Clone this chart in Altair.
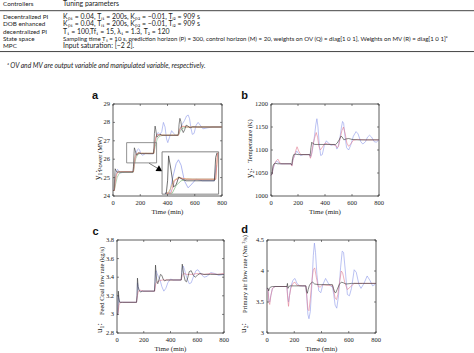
import altair as alt
import pandas as pd

W, H = 474, 353
SERIF = "Liberation Serif"
SANS = "Lato"

# ---------------- table text ----------------
table_left = ["Controllers", "Decentralized PI", "DOB enhanced", "decentralized PI", "State space", "MPC"]
table_right = [
    "Tuning parameters",
    "Kₚ₁ = 0.04, Tᵢ₁ = 200s, Kₚ₂ = −0.01, Tᵢ₂ = 909 s",
    "Kₚ₁ = 0.04, Tᵢ₁ = 200s, Kₚ₂ = −0.01, Tᵢ₂ = 909 s",
    "T₁ = 100,Tf₁ = 15, λ₁ = 1.3, T₂ = 120",
    "Input saturation: [−2 2].",
]
table_rows = [0.25, 2, 3, 4, 5, 6]
right_rows = [0.25, 2, 3, 4, 6]
long_row_text = ("Sampling time Tₛ = 10 s, prediction horizon (P) = 300, control horizon (M) = 20, "
                 "weights on OV (Q) = diag[1 0 1], Weights on MV (R) = diag[1 0 1]ᵃ")
long_row = 5
rule_rows = [1.15, 6.75]
footnote = "ᵃ OV and MV are output variable and manipulated variable, respectively."
footnote_row = 8.73

T_TICKS = [0, 200, 400, 600, 800]

# ---------------- panel a : Power (MW) ----------------
a_black_t = [0, 8, 12, 16, 22, 30, 40, 146, 150, 154, 157, 164, 172, 180, 188, 198, 210,
             296, 300, 304, 309, 314, 322, 332, 345, 360,
             476, 480, 485, 491, 498, 507, 516, 526, 537, 550, 565, 585, 620, 800]
a_black_v = [24.3, 24.3, 25.0, 25.48, 25.38, 25.3, 25.3, 25.3, 25.6, 26.3, 26.62, 26.45, 26.22, 26.25, 26.35, 26.32, 26.3,
             26.3, 26.6, 27.4, 27.8, 27.6, 27.2, 27.25, 27.35, 27.3,
             27.3, 27.4, 27.9, 28.22, 28.05, 27.6, 27.45, 27.6, 27.85, 27.8, 27.7, 27.76, 27.75, 27.75]
a_blue_t = [0, 8, 14, 22, 32, 42, 55, 70, 90,
            146, 152, 160, 170, 180, 187, 195, 205, 216, 228, 240, 260,
            296, 302, 310, 320, 332, 345, 358, 370, 382, 393, 402, 415, 430, 445, 460,
            476, 482, 490, 500, 512, 525, 540, 552, 562, 572, 582, 595, 610, 625, 640, 660, 690, 730, 800]
a_blue_v = [24.3, 24.3, 24.7, 25.2, 25.45, 25.38, 25.25, 25.28, 25.3,
            25.3, 25.55, 26.0, 26.35, 26.52, 26.57, 26.5, 26.3, 26.21, 26.26, 26.32, 26.3,
            26.3, 26.5, 26.9, 27.3, 27.45, 27.35, 27.5, 28.0, 27.75, 27.1, 26.9, 27.2, 27.55, 27.4, 27.3,
            27.3, 27.35, 27.55, 27.8, 27.95, 28.1, 28.35, 28.4, 28.2, 27.7, 27.35, 27.4, 27.85, 28.0, 27.85, 27.65, 27.7, 27.75, 27.75]
a_red_t = [0, 10, 16, 24, 35, 50, 150, 156, 164, 175, 190, 210, 300, 306, 315, 328, 345, 370,
           480, 486, 496, 510, 528, 550, 580, 800]
a_red_v = [24.3, 24.3, 24.7, 25.1, 25.3, 25.32, 25.32, 25.7, 26.1, 26.3, 26.34, 26.32, 26.32, 26.8, 27.2, 27.35, 27.32, 27.3,
           27.3, 27.5, 27.72, 27.8, 27.77, 27.75, 27.75, 27.75]
a_green_t = [0, 10, 18, 30, 45, 65, 150, 158, 168, 180, 195, 215, 300, 310, 325, 345, 370,
             480, 492, 510, 535, 565, 800]
a_green_v = [24.3, 24.3, 24.6, 25.0, 25.22, 25.3, 25.3, 25.7, 26.05, 26.24, 26.3, 26.32, 26.32, 26.7, 27.1, 27.26, 27.3,
             27.3, 27.5, 27.68, 27.74, 27.75, 27.75]
a_orange_t = [0, 10, 15, 25, 38, 55, 150, 155, 163, 172, 185, 200, 230, 300, 306, 316, 330, 350,
              480, 488, 500, 520, 545, 800]
a_orange_v = [24.3, 24.3, 24.8, 25.2, 25.34, 25.32, 25.32, 25.8, 26.2, 26.3, 26.34, 26.33, 26.32, 26.32, 26.9, 27.25, 27.34, 27.31,
              27.31, 27.6, 27.76, 27.78, 27.75, 27.75]

# ---------------- panel b : Temperature (K) ----------------
b_black_t = [0, 8, 14, 22, 35, 50, 70, 148, 154, 160, 168, 180, 200,
             285, 290, 296, 302, 310, 325, 350, 400,
             478, 490, 505, 518, 528, 540, 555, 575, 600, 650, 800]
b_black_v = [1045, 1048, 1065, 1070, 1071, 1070, 1070, 1070, 1068, 1082, 1090, 1091, 1090,
             1090, 1088, 1105, 1117, 1114, 1112, 1112, 1112,
             1112, 1115, 1122, 1130, 1128, 1122, 1124, 1125, 1123, 1122, 1122]
b_blue_t = [0, 8, 15, 25, 40, 55, 70, 100,
            148, 155, 162, 175, 190, 205, 220, 240,
            285, 292, 300, 310, 322, 332, 340, 348, 358, 368, 380, 395, 410, 425, 445, 465,
            480, 488, 498, 510, 522, 530, 538, 548, 560, 575, 590, 610, 630, 645, 665, 680, 700, 715, 730, 745, 765, 780, 800]
b_blue_v = [1045, 1048, 1058, 1068, 1076, 1073, 1070, 1070,
            1070, 1066, 1078, 1088, 1098, 1092, 1088, 1090,
            1090, 1084, 1090, 1105, 1130, 1155, 1168, 1150, 1110, 1088, 1090, 1110, 1120, 1115, 1110, 1112,
            1110, 1102, 1108, 1125, 1150, 1162, 1158, 1130, 1105, 1100, 1110, 1130, 1140, 1135, 1118, 1113, 1118, 1128, 1132, 1128, 1118, 1117, 1122]
b_red_t = [0, 8, 15, 25, 40, 52, 65, 80,
           148, 155, 162, 175, 185, 193, 205, 220,
           285, 292, 300, 310, 322, 335, 345, 355, 365, 380, 400, 420, 450,
           480, 490, 500, 512, 525, 537, 550, 562, 575, 590, 610, 640, 700, 800]
b_red_v = [1045, 1047, 1060, 1070, 1077, 1080, 1072, 1070,
           1070, 1065, 1078, 1090, 1100, 1107, 1098, 1090,
           1090, 1082, 1090, 1110, 1125, 1138, 1128, 1108, 1100, 1106, 1115, 1113, 1112,
           1110, 1105, 1108, 1125, 1142, 1150, 1135, 1115, 1108, 1113, 1121, 1123, 1122, 1122]

# ---------------- panel c : Feed coal flow rate (kg/s) ----------------
c_black_t = [0, 6, 10, 14, 20, 28, 40, 146, 150, 153, 158, 165, 175, 190,
             280, 284, 288, 292, 298, 305, 315, 325, 335, 345, 355, 370, 380,
             480, 484, 488, 492, 500, 510, 520, 530, 540, 555, 570, 585, 600, 620, 650, 700, 800]
c_black_v = [3.0, 3.0, 3.25, 3.18, 3.13, 3.13, 3.13, 3.13, 3.2, 3.39, 3.3, 3.26, 3.24, 3.25,
             3.25, 3.35, 3.53, 3.45, 3.35, 3.33, 3.38, 3.43, 3.42, 3.38, 3.36, 3.37, 3.37,
             3.37, 3.45, 3.54, 3.5, 3.42, 3.36, 3.35, 3.4, 3.46, 3.47, 3.42, 3.4, 3.42, 3.44, 3.43, 3.43, 3.43]
c_blue_t = [0, 6, 10, 14, 20, 30, 40, 146, 150, 153, 158, 165, 180,
            280, 284, 288, 292, 300, 310, 320, 335, 350, 365, 380, 400, 420,
            480, 484, 488, 495, 505, 520, 540, 555, 570, 590, 605, 625, 650, 675, 700, 730, 760, 800]
c_blue_v = [3.0, 3.0, 3.2, 3.16, 3.13, 3.13, 3.13, 3.13, 3.2, 3.34, 3.3, 3.26, 3.25,
            3.25, 3.33, 3.45, 3.47, 3.44, 3.4, 3.38, 3.3, 3.25, 3.28, 3.34, 3.38, 3.37,
            3.37, 3.43, 3.5, 3.52, 3.48, 3.4, 3.33, 3.34, 3.4, 3.47, 3.48, 3.44, 3.4, 3.41, 3.45, 3.44, 3.42, 3.43]
c_red_t = [0, 8, 15, 25, 40, 146, 152, 160, 175, 200, 282, 290, 300, 315, 340, 380,
           480, 488, 500, 520, 560, 600, 650, 700, 750, 800]
c_red_v = [3.0, 3.02, 3.1, 3.13, 3.13, 3.13, 3.2, 3.25, 3.26, 3.25, 3.25, 3.33, 3.35, 3.36, 3.37, 3.37,
           3.37, 3.42, 3.44, 3.43, 3.43, 3.44, 3.43, 3.44, 3.43, 3.44]

# ---------------- panel d : Primary air flow rate ----------------
d_black_t = [0, 8, 12, 18, 25, 40, 146, 150, 154, 160, 170, 200,
             285, 290, 296, 302, 310, 320, 335, 350, 380,
             480, 488, 496, 505, 515, 530, 545, 560, 580, 620, 700, 800]
d_black_v = [3.72, 3.72, 3.68, 3.72, 3.74, 3.75, 3.75, 3.8, 3.72, 3.75, 3.76, 3.76,
             3.76, 3.68, 3.64, 3.7, 3.76, 3.8, 3.82, 3.79, 3.78,
             3.78, 3.72, 3.66, 3.65, 3.7, 3.78, 3.82, 3.81, 3.79, 3.8, 3.8, 3.8]
d_red_t = [0, 8, 14, 20, 28, 40, 60,
           146, 152, 158, 165, 175, 190, 205, 220, 260,
           285, 292, 300, 308, 318, 330, 340, 350, 362, 375, 390, 410, 440,
           480, 490, 500, 510, 520, 535, 545, 555, 570, 590, 610, 640, 700, 800]
d_red_v = [3.72, 3.7, 3.5, 3.46, 3.6, 3.72, 3.75,
           3.75, 3.55, 3.43, 3.6, 3.72, 3.8, 3.82, 3.77, 3.76,
           3.76, 3.6, 3.38, 3.36, 3.55, 3.85, 4.02, 4.05, 3.9, 3.75, 3.74, 3.78, 3.77,
           3.77, 3.68, 3.56, 3.54, 3.62, 3.85, 4.0, 3.97, 3.82, 3.7, 3.74, 3.8, 3.8, 3.8]
d_blue_t = [0, 8, 14, 20, 28, 40, 60,
            146, 152, 158, 165, 175, 190, 205, 220, 240, 260,
            285, 292, 300, 308, 318, 330, 340, 348, 356, 366, 380, 395, 410, 430, 450, 470,
            480, 490, 500, 512, 525, 540, 552, 562, 575, 590, 605, 620, 640, 655, 675, 690, 712, 735, 755, 775, 790, 800]
d_blue_v = [3.72, 3.7, 3.52, 3.5, 3.6, 3.72, 3.75,
            3.75, 3.6, 3.5, 3.6, 3.75, 3.85, 3.88, 3.8, 3.76, 3.76,
            3.76, 3.58, 3.3, 3.23, 3.35, 3.8, 4.25, 4.45, 4.3, 3.95, 3.68, 3.65, 3.78, 3.88, 3.8, 3.75,
            3.75, 3.62, 3.45, 3.4, 3.6, 4.05, 4.32, 4.3, 4.0, 3.62, 3.6, 3.72, 4.02, 3.98, 3.78, 3.72, 3.8, 3.92, 3.85, 3.76, 3.78, 3.8]

BLACK, BLUE, RED, GREEN, ORANGE = "#333333", "#8d98ea", "#e07a90", "#7cb87c", "#e0b45c"
LINE_W = 0.6


def series_frame(items):
    rows = []
    for rank, (name, color, ts, vs) in enumerate(items):
        for t, v in zip(ts, vs):
            rows.append({"s": f"{rank}_{name}", "c": color, "t": t, "v": v})
    return pd.DataFrame(rows)


def panel(df, xr, yr, ydom, yticks, extras=()):
    x0, x1 = xr
    ytop, ybot = yr
    xs = alt.Scale(domain=[0, 800], range=[x0, x1], nice=False, zero=False)
    ys = alt.Scale(domain=ydom, range=[ybot, ytop], nice=False, zero=False)
    frame_df = pd.DataFrame({"t0": [0], "t1": [800], "v0": [ydom[0]], "v1": [ydom[1]]})
    frame = alt.Chart(frame_df).mark_rect(fill="white", stroke="#333", strokeWidth=0.8).encode(
        x=alt.X("t0:Q", scale=xs, axis=None), x2="t1:Q",
        y=alt.Y("v0:Q", scale=ys, axis=None), y2="v1:Q")
    lines = alt.Chart(df).mark_line(strokeWidth=LINE_W).encode(
        x=alt.X("t:Q", scale=xs, axis=None), y=alt.Y("v:Q", scale=ys, axis=None),
        color=alt.Color("c:N", scale=None), detail="s:N")
    xt_df = pd.DataFrame({"tick": T_TICKS})
    yt_df = pd.DataFrame({"tick": yticks})
    xlab = alt.Chart(xt_df).mark_text(font=SERIF, fontSize=6.5, baseline="middle", align="center",
                                      color="#222").encode(
        x=alt.X("tick:Q", scale=xs, axis=None), y=alt.value(ybot + 7), text=alt.Text("tick:Q", format="~g"))
    ylab = alt.Chart(yt_df).mark_text(font=SERIF, fontSize=6.5, baseline="middle", align="right",
                                      color="#222").encode(
        y=alt.Y("tick:Q", scale=ys, axis=None), x=alt.value(x0 - 3), text=alt.Text("tick:Q", format="~g"))
    tick_style = dict(color="#333", strokeWidth=0.6)
    xtick_b = alt.Chart(xt_df).mark_rule(**tick_style).encode(
        x=alt.X("tick:Q", scale=xs, axis=None), y=alt.value(ybot), y2=alt.value(ybot - 2))
    xtick_t = alt.Chart(xt_df).mark_rule(**tick_style).encode(
        x=alt.X("tick:Q", scale=xs, axis=None), y=alt.value(ytop), y2=alt.value(ytop + 2))
    ytick_l = alt.Chart(yt_df).mark_rule(**tick_style).encode(
        y=alt.Y("tick:Q", scale=ys, axis=None), x=alt.value(x0), x2=alt.value(x0 + 2))
    ytick_r = alt.Chart(yt_df).mark_rule(**tick_style).encode(
        y=alt.Y("tick:Q", scale=ys, axis=None), x=alt.value(x1), x2=alt.value(x1 - 2))
    xtitle = alt.Chart(pd.DataFrame({"txt": ["Time (min)"]})).mark_text(
        font=SERIF, fontSize=7, baseline="middle", align="center", color="#222").encode(
        text="txt:N", x=alt.value((x0 + x1) / 2), y=alt.value(ybot + 16))
    layers = [frame, lines] + [e(xs, ys) for e in extras] + [xtick_b, xtick_t, ytick_l, ytick_r,
                                                              xlab, ylab, xtitle]
    return alt.layer(*layers)


df_a = series_frame([("blue", BLUE, a_blue_t, a_blue_v), ("green", GREEN, a_green_t, a_green_v),
                     ("orange", ORANGE, a_orange_t, a_orange_v), ("red", RED, a_red_t, a_red_v),
                     ("black", BLACK, a_black_t, a_black_v)])
df_b = series_frame([("blue", BLUE, b_blue_t, b_blue_v), ("red", RED, b_red_t, b_red_v),
                     ("black", BLACK, b_black_t, b_black_v)])
df_c = series_frame([("blue", BLUE, c_blue_t, c_blue_v), ("red", RED, c_red_t, c_red_v),
                     ("black", BLACK, c_black_t, c_black_v)])
df_d = series_frame([("blue", BLUE, d_blue_t, d_blue_v), ("red", RED, d_red_t, d_red_v),
                     ("black", BLACK, d_black_t, d_black_v)])

# zoom window of panel a, and where it is redrawn
ZOOM_T, ZOOM_V = (138, 308), (26.14, 26.66)
INSET_T, INSET_V = (360, 775), (24.1, 26.4)


def zoom_rect(xs, ys):
    d = pd.DataFrame({"t0": [100], "t1": [320], "v0": [25.8], "v1": [26.9]})
    return alt.Chart(d).mark_rect(fill="transparent", stroke="#777", strokeWidth=0.8).encode(
        x=alt.X("t0:Q", scale=xs, axis=None), x2="t1:Q", y=alt.Y("v0:Q", scale=ys, axis=None), y2="v1:Q")


def inset_box(xs, ys):
    d = pd.DataFrame({"t0": [INSET_T[0]], "t1": [INSET_T[1]], "v0": [INSET_V[0]], "v1": [INSET_V[1]]})
    return alt.Chart(d).mark_rect(fill="white", stroke="#777", strokeWidth=0.9).encode(
        x=alt.X("t0:Q", scale=xs, axis=None), x2="t1:Q", y=alt.Y("v0:Q", scale=ys, axis=None), y2="v1:Q")


def inset_lines(xs, ys):
    t0, t1 = ZOOM_T
    v0, v1 = ZOOM_V
    it0, it1 = INSET_T[0] + 2, INSET_T[1] - 2
    iv0, iv1 = INSET_V[0] + 0.05, INSET_V[1] - 0.05
    return alt.Chart(df_a).transform_filter(
        f"datum.t >= {t0} && datum.t <= {t1}"
    ).transform_calculate(
        tx=f"{it0} + (datum.t - {t0}) * {(it1 - it0) / (t1 - t0)}",
        vy=f"{iv0} + (clamp(datum.v, {v0}, {v1}) - {v0}) * {(iv1 - iv0) / (v1 - v0)}",
    ).mark_line(strokeWidth=0.7).encode(
        x=alt.X("tx:Q", scale=xs, axis=None), y=alt.Y("vy:Q", scale=ys, axis=None),
        color=alt.Color("c:N", scale=None), detail="s:N")


def arrow_line(xs, ys):
    d = pd.DataFrame({"t": [265, 340], "v": [25.78, 25.45]})
    return alt.Chart(d).mark_line(color="#444", strokeWidth=0.7).encode(
        x=alt.X("t:Q", scale=xs, axis=None), y=alt.Y("v:Q", scale=ys, axis=None))


def arrow_head(xs, ys):
    d = pd.DataFrame({"t": [343], "v": [25.43]})
    return alt.Chart(d).mark_point(shape="triangle-right", filled=True, color="black", size=45,
                                   angle=31, opacity=1).encode(
        x=alt.X("t:Q", scale=xs, axis=None), y=alt.Y("v:Q", scale=ys, axis=None))


pa = panel(df_a, (113, 222), (104, 196), [24, 29], [24, 25, 26, 27, 28, 29],
           extras=(zoom_rect, arrow_line, arrow_head, inset_box, inset_lines))
pb = panel(df_b, (271, 379), (104, 196), [1000, 1200], [1000, 1050, 1100, 1150, 1200])
pc = panel(df_c, (117, 224), (240, 333), [2.8, 3.8], [2.8, 3, 3.2, 3.4, 3.6, 3.8])
pd_ = panel(df_d, (267, 376), (240, 333), [3, 4.5], [3, 3.5, 4, 4.5])

# ---------------- table layer ----------------
tx_scale = alt.Scale(domain=[0, 1], range=[3, 63])
ty_scale = alt.Scale(domain=[0, 10], range=[2.3, 75.3])
df_left = pd.DataFrame({"col": [0] * len(table_left), "row": table_rows, "text": table_left})
df_right = pd.DataFrame({"col": [1] * len(table_right), "row": right_rows, "text": table_right})
df_long = pd.DataFrame({"col": [1], "row": [long_row], "text": [long_row_text]})
left_text = alt.Chart(df_left).mark_text(align="left", baseline="middle", font=SANS, fontSize=6.3,
                                         color="#222").encode(
    x=alt.X("col:Q", scale=tx_scale, axis=None), y=alt.Y("row:Q", scale=ty_scale, axis=None), text="text:N")
right_text = alt.Chart(df_right).mark_text(align="left", baseline="middle", font=SANS, fontSize=6.9,
                                           color="#222").encode(
    x=alt.X("col:Q", scale=tx_scale, axis=None), y=alt.Y("row:Q", scale=ty_scale, axis=None), text="text:N")
long_text = alt.Chart(df_long).mark_text(align="left", baseline="middle", font=SANS, fontSize=6.1,
                                         color="#222").encode(
    x=alt.X("col:Q", scale=tx_scale, axis=None), y=alt.Y("row:Q", scale=ty_scale, axis=None), text="text:N")
tbl_rules = alt.Chart(pd.DataFrame({"row": rule_rows})).mark_rule(color="#444", strokeWidth=1).encode(
    y=alt.Y("row:Q", scale=ty_scale, axis=None), x=alt.value(0), x2=alt.value(W))
tbl_foot = alt.Chart(pd.DataFrame({"col": [0.067], "row": [footnote_row], "text": [footnote]})).mark_text(
    align="left", baseline="middle", font=SANS, fontSize=6.7, fontStyle="italic", color="#222").encode(
    x=alt.X("col:Q", scale=tx_scale, axis=None), y=alt.Y("row:Q", scale=ty_scale, axis=None), text="text:N")
table = alt.layer(left_text, right_text, long_text, tbl_rules, tbl_foot)


def label(text, x, y, size, angle=0, font=SERIF, weight="normal"):
    return alt.Chart(pd.DataFrame({"txt": [text]})).mark_text(
        font=font, fontSize=size, fontWeight=weight, angle=angle, align="center", baseline="middle",
        color="#111").encode(text="txt:N", x=alt.value(x), y=alt.value(y))


labels = [
    label("a", 95, 96, 11, font="Liberation Sans", weight="bold"),
    label("b", 244.5, 96, 11, font="Liberation Sans", weight="bold"),
    label("c", 95.5, 232, 11, font="Liberation Sans", weight="bold"),
    label("d", 244.5, 230, 11, font="Liberation Sans", weight="bold"),
    label("y₁:", 97, 175, 9, angle=270),
    label("Power (MW)", 100, 154, 6.5, angle=270),
    label("y₂:", 249, 173, 9, angle=270),
    label("Temperature (K)", 250, 141, 6.5, angle=270),
    label("u₁:", 99, 328, 9, angle=270),
    label("Feed Coal flow rate (kg/s)", 101.5, 281, 6.5, angle=270),
    label("u₂:", 243, 328, 9, angle=270),
    label("Primary air flow rate (Nm ³/s)", 245, 274, 6.5, angle=270),
]

chart = alt.layer(table, pa, pb, pc, pd_, *labels).resolve_scale(
    x="independent", y="independent"
).properties(
    width=W, height=H, padding=0, background="white",
    autosize=alt.AutoSizeParams(type="none"),
).configure_view(stroke=None)

chart.save("out.html", embed_options={"renderer": "svg", "actions": False})
